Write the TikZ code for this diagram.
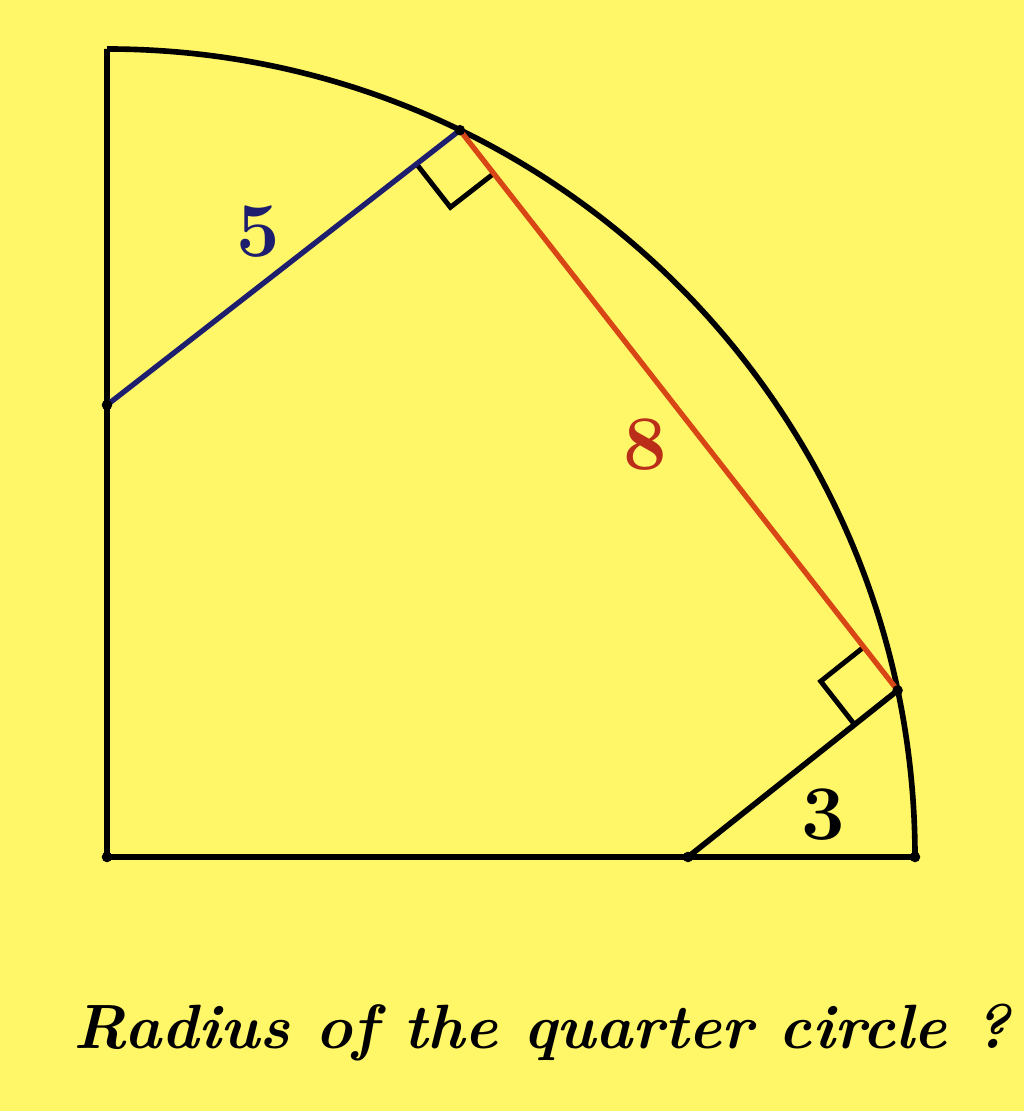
\documentclass[tikz,border=0pt]{standalone}
\usepackage{tikz}
\usetikzlibrary{calc}

\definecolor{bgyellow}{RGB}{255,246,104}
\definecolor{navy}{RGB}{30,30,110}
\definecolor{chordred}{RGB}{215,70,20}
\definecolor{labelred}{RGB}{185,45,25}

\tikzset{
  edge/.style={line width=1.6pt, black},
  dot/.style={circle, fill=black, inner sep=0pt, minimum size=3pt},
  lbl/.style={font=\fontsize{22}{24}\selectfont\bfseries}
}

\begin{document}
\begin{tikzpicture}
 \fill[bgyellow] (0,0) rectangle (10.24,11.11);
 \useasboundingbox (0,0) rectangle (10.24,11.11);

 \coordinate (O) at (1.07,2.54);
 \coordinate (T) at (1.07,10.62);
 \coordinate (E) at (9.15,2.54);
 \coordinate (P) at ($(O)+(64.1:8.08)$);
 \coordinate (Q) at ($(O)+(11.9:8.08)$);
 \coordinate (A) at (1.07,7.06);
 \coordinate (B) at (6.88,2.54);

 % quarter circle
 \draw[edge] (T) -- (O) -- (E) arc (0:90:8.08);

 % right angle marks
 \coordinate (Pa) at ($(P)!0.55cm!(A)$);
 \coordinate (Pq) at ($(P)!0.55cm!(Q)$);
 \coordinate (Qp) at ($(Q)!0.55cm!(P)$);
 \coordinate (Qb) at ($(Q)!0.55cm!(B)$);
 \draw[line width=1.4pt] (Pa) -- ($(Pa)+(Pq)-(P)$) -- (Pq);
 \draw[line width=1.4pt] (Qp) -- ($(Qp)+(Qb)-(Q)$) -- (Qb);

 % segments
 \draw[line width=1.5pt, navy] (A) -- (P);
 \draw[line width=1.5pt, chordred] (P) -- (Q);
 \draw[edge] (Q) -- (B);

 \foreach \p in {O,A,B,E,P,Q} \node[dot] at (\p) {};

 \node[lbl, navy] (five) at (2.58,8.79) {5};
 \node[lbl, labelred] (eight) at (6.45,6.66) {8};
 \node[lbl, black] (three) at (8.23,2.96) {3};

 \node[font=\fontsize{17.8}{20}\selectfont\bfseries\itshape] (question) at (5.42,0.78) {Radius of the quarter circle ?};
\end{tikzpicture}
\end{document}
